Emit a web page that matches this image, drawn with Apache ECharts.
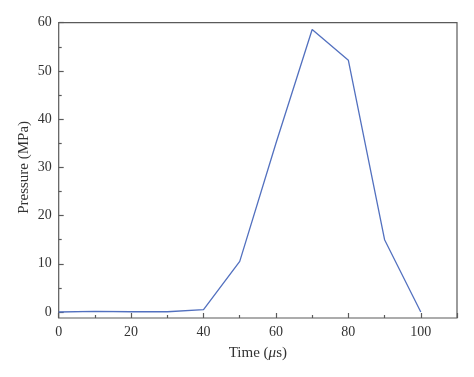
<!DOCTYPE html>
<html><head><meta charset="utf-8">
<script src="https://cdn.jsdelivr.net/npm/echarts@6/dist/echarts.min.js"></script>
<style>html,body{margin:0;padding:0;background:#fff}#c{width:474px;height:377px}</style>
</head><body><div id="c"></div>
<script>
const timeUs = [0, 10, 20, 30, 40, 50, 60, 70, 80, 90, 100];
const pressureMPa = [0, 0.15, 0.05, 0.05, 0.5, 10.5, 35, 58.6, 52.2, 15, 0];
const xTickLabels = ['0', '20', '40', '60', '80', '100'];
const yTickLabels = ['0', '10', '20', '30', '40', '50', '60'];

const font = 'Liberation Serif';
const chart = echarts.init(document.getElementById('c'), null, {renderer: 'canvas'});
chart.setOption({
  animation: false,
  backgroundColor: '#fff',
  grid: [
    {left: 58.7, right: 17, top: 22.7, bottom: 65, show: false},
    {left: 58.7, right: 17, top: 22.7, bottom: 59, show: true, borderColor: '#5a5a5a', borderWidth: 1.2, backgroundColor: 'transparent'}
  ],
  xAxis: [
    {gridIndex: 0, type: 'value', min: 0, max: 110, interval: 20, show: false},
    {
      gridIndex: 1, type: 'value', min: 0, max: 110, interval: 20,
      axisLine: {show: false},
      axisTick: {show: true, inside: true, length: 5, lineStyle: {color: '#5a5a5a', width: 1.2}},
      minorTick: {show: true, splitNumber: 2, length: 3, lineStyle: {color: '#5a5a5a', width: 1.2}},
      splitLine: {show: false},
      axisLabel: {margin: 7, color: '#333', fontFamily: font, fontSize: 14,
        formatter: v => xTickLabels.includes(String(v)) ? String(v) : '', showMaxLabel: false},
      name: 'Time ({i|μ}s)', nameLocation: 'middle', nameGap: 28, nameMoveOverlap: false,
      nameTextStyle: {color: '#333', fontFamily: font, fontSize: 15,
        rich: {i: {fontStyle: 'italic', fontFamily: font, fontSize: 15, color: '#333'}}}
    }
  ],
  yAxis: [{
    gridIndex: 0, type: 'value', min: 0, max: 60, interval: 10,
    axisLine: {show: false},
    axisTick: {show: true, inside: true, length: 5, lineStyle: {color: '#5a5a5a', width: 1.2}},
    minorTick: {show: true, splitNumber: 2, length: 3, lineStyle: {color: '#5a5a5a', width: 1.2}},
    splitLine: {show: false},
    axisLabel: {margin: 7, color: '#333', fontFamily: font, fontSize: 14,
      formatter: v => yTickLabels.includes(String(v)) ? String(v) : ''},
    name: 'Pressure (MPa)', nameLocation: 'middle', nameGap: 27, nameMoveOverlap: false,
    nameTextStyle: {color: '#333', fontFamily: font, fontSize: 15}
  }, {gridIndex: 1, type: 'value', min: 0, max: 1, show: false}],
  series: [{
    type: 'line', xAxisIndex: 0, yAxisIndex: 0,
    data: timeUs.map((t, i) => [t, pressureMPa[i]]),
    showSymbol: false, symbol: 'none',
    lineStyle: {color: '#5270bf', width: 1.3},
    clip: false
  }]
});
</script></body></html>
